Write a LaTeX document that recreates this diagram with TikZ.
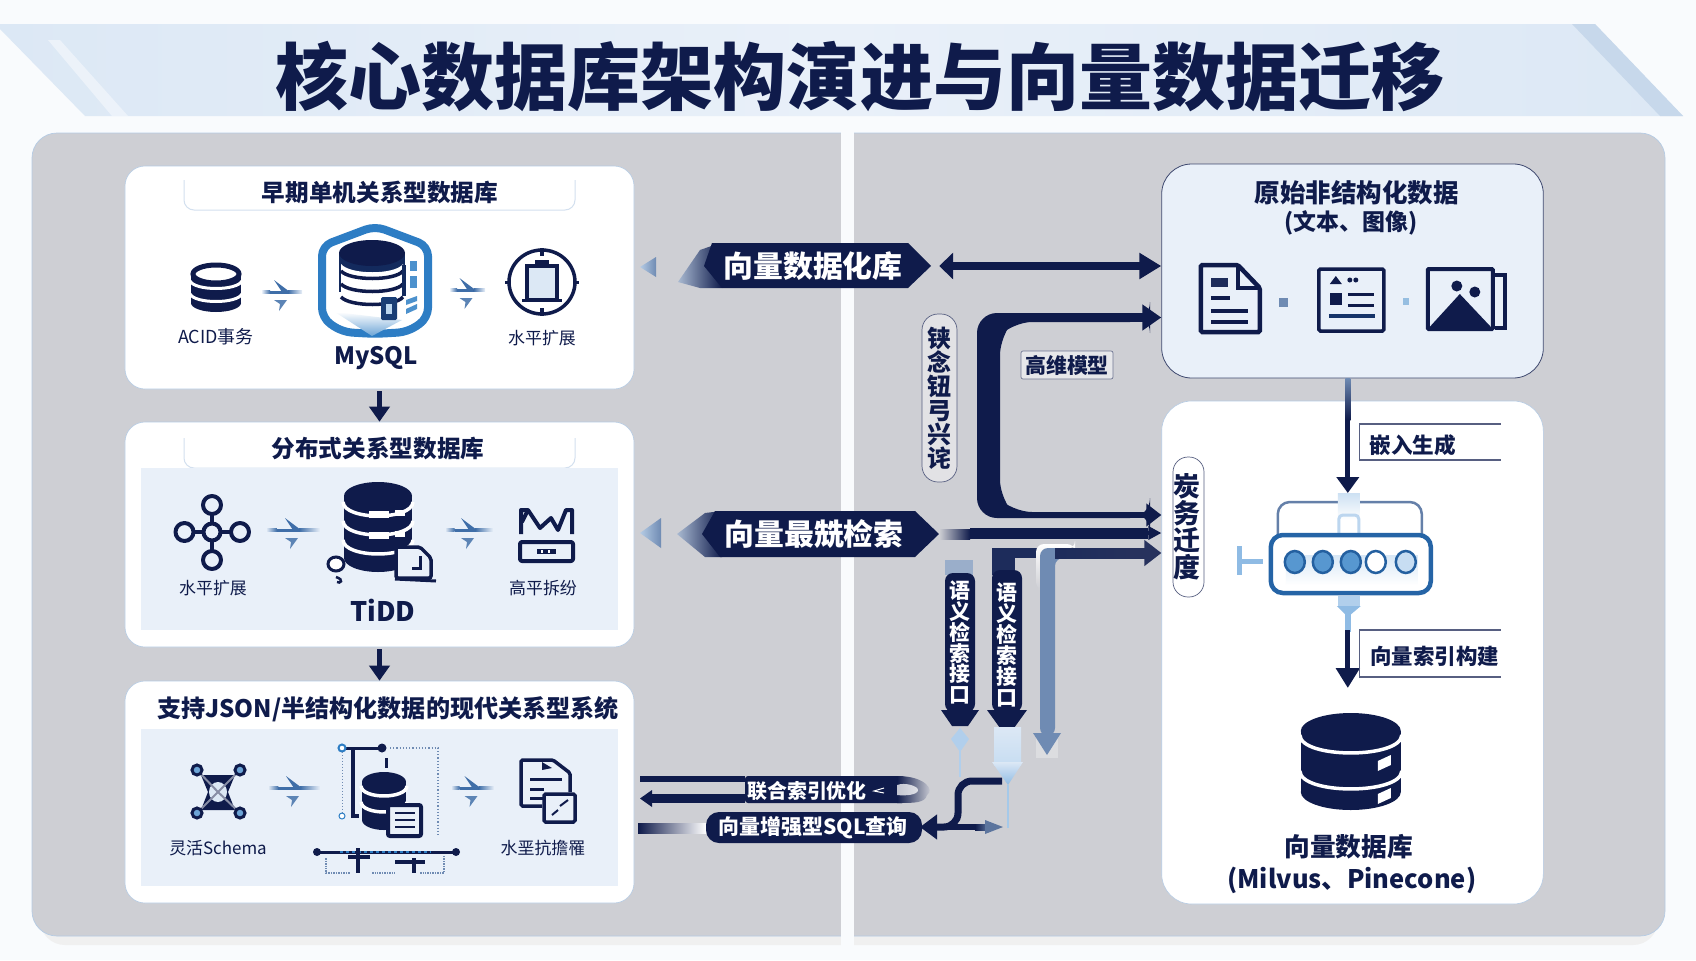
\documentclass[tikz,border=0pt]{standalone}
\usepackage{fontspec}
\setmainfont{Noto Sans CJK SC}
\usetikzlibrary{arrows.meta,calc}
\definecolor{navy}{HTML}{0F1B4B}
\definecolor{midblue}{HTML}{2D7DC4}
\definecolor{flowblue}{HTML}{3F6EA8}
\definecolor{paleblue}{HTML}{DCE8F5}
\definecolor{skyblue}{HTML}{8FBBE4}
\definecolor{steel}{HTML}{6F8BB3}
\definecolor{panelgrey}{HTML}{CECFD4}
\definecolor{pagebg}{HTML}{F9FBFD}
\definecolor{innerbg}{HTML}{E9F0F9}
\definecolor{edgeblue}{HTML}{B5CBE4}
\newcommand\fs[1]{\fontsize{#1}{#1}\selectfont}
\newcommand\dbicon[7]{%
  \fill[#6] ({#1-#3},#2) rectangle ({#1+#3},#5);
  \fill[#6] (#1,#2) ellipse [x radius=#3, y radius=#4];
  \fill[#6] (#1,#5) ellipse [x radius=#3, y radius=#4];
  \foreach \b in {#7} \draw[white,line width=3.5bp] ({#1-#3-1},\b) .. controls ({#1-#3},{\b+1.33*#4}) and ({#1+#3},{\b+1.33*#4}) .. ({#1+#3+1},\b);
}
% flow arrow pair: x1 x2 y
\newcommand\flowpair[3]{%
  \shade[left color=innerbg,right color=flowblue] (#1,{#3-1.5}) rectangle ({#1+0.2*(#2-#1)},{#3+1.5});
  \fill[flowblue] ({#1+0.2*(#2-#1)},{#3-1.5}) rectangle ({(#1+#2)/2+6},{#3+1.5});
  \shade[left color=flowblue,right color=innerbg] ({(#1+#2)/2+6},{#3-1.5}) rectangle (#2,{#3+1.5});
  \fill[flowblue] ({(#1+#2)/2-8},{#3-12}) -- ({(#1+#2)/2+8},#3) -- ({(#1+#2)/2-4},{#3+1}) -- ({(#1+#2)/2+0},#3) -- cycle;
  \fill[flowblue!85] ({(#1+#2)/2-8},{#3+8}) -- ({(#1+#2)/2+5},{#3+8}) -- ({(#1+#2)/2-3},{#3+19}) -- ({(#1+#2)/2-2},{#3+12}) -- cycle;
}
\tikzset{
  card/.style={fill=white,draw=edgeblue,line width=.6bp,rounded corners=20bp,inner sep=0},
  lbl/.style={inner sep=0,text=navy,font=\fs{17}},
  ttl/.style={inner sep=0,text=navy,font=\fs{23.7}\bfseries},
  bar/.style={navy,line width=#1},
  downarrow/.style={navy,line width=5bp,-{Triangle[length=15bp,width=20bp]}},
  ban/.style={inner sep=0,text=white,font=\fs{#1}\bfseries},
  vtext/.style={inner sep=0,align=center,font=\fs{21}\bfseries},
  icon/.style={navy,line width=4bp,line join=round},
  pillbox/.style={draw=navy!70,fill=panelgrey!60!white,line width=.7bp,rounded corners=16bp,inner sep=0},
}
\begin{document}
\begin{tikzpicture}[x=1bp,y=-1bp]
\useasboundingbox (0,0) rectangle (1696,960);
\fill[pagebg] (0,0) rectangle (1696,960);
% title band
\shade[left color=paleblue,right color=paleblue,middle color=innerbg]
  (0,24) -- (1595,24) -- (1683,116) -- (85,116) -- (0,29) -- cycle;
\fill[white,opacity=.45] (48,40) -- (60,40) -- (128,116) -- (112,116) -- cycle;
\fill[edgeblue!75!white] (1595,24) -- (1683,116) -- (1660,116) -- (1572,24) -- cycle;
\node (title) [inner sep=0,text=navy,font=\fs{73.3}\bfseries] at (860,77) {核心数据库架构演进与向量数据迁移};
% panels
\fill[black!6] (40,150) [rounded corners=25bp] rectangle (1658,945);
\draw[fill=panelgrey,draw=edgeblue,line width=.7bp,rounded corners=25bp] (32,133) rectangle (1665,936);
\fill[pagebg] (841,132) rectangle (854,946);
% ---------- left cards
\node (c1) [card,minimum width=509bp,minimum height=223bp] at (379.5,277.5) {};
\node (c2) [card,minimum width=509bp,minimum height=225bp] at (379.5,534.5) {};
\node (c3) [card,minimum width=509bp,minimum height=222bp] at (379.5,792) {};
\draw[downarrow] (c1.south) ++(0,2) -- (c2.north);
\draw[downarrow] (c2.south) ++(0,2) -- (c3.north);
% headers
\draw[edgeblue!60,line width=1bp,rounded corners=10bp,fill=white] (184,180) -- (184,210) -- (575,210) -- (575,180);
\draw[edgeblue!60,line width=1bp,rounded corners=10bp,fill=white] (184,438) -- (184,468) -- (575,468) -- (575,438);
\node (h1) [ttl] at (380,192) {早期单机关系型数据库};
\node (h2) [ttl] at (378,448) {分布式关系型数据库};
\node (h3) [ttl,font=\fs{24.2}\bfseries] at (388,709) {支持JSON/半结构化数据的现代关系型系统};
\fill[innerbg] (141,468) rectangle (618,630);
\fill[innerbg] (141,729) rectangle (618,886);
% ---------- card 1 icons
\fill[navy] (191,274) rectangle (241,302);
\fill[navy] (216,303) ellipse [x radius=25,y radius=9];
\foreach \b in {281,294} \draw[white,line width=3bp] (190,\b) .. controls (195,{\b+10}) and (237,{\b+10}) .. (242,\b);
\draw[navy,line width=5bp,fill=white] (216,274) ellipse [x radius=23,y radius=9];
\node (l11) [lbl,font=\fs{18}] at (216,337) {ACID事务};
\flowpair{262}{302}{292}
% MySQL shield
\draw[midblue,line width=8bp,fill=white,rounded corners=10bp,line join=round]
  (375,226) -- (428,246) -- (428,318) -- (408,332) -- (375,334) -- (342,332) -- (322,318) -- (322,246) -- cycle;
\shade[top color=white,bottom color=midblue!70] (335,312) -- (402,320) -- (372,336) -- cycle;
\fill[navy!85!midblue] (339,252) rectangle (405,292);
\fill[navy] (372,253) ellipse [x radius=33,y radius=13];
\fill[white] (341,264) .. controls (350,275) and (395,275) .. (403,264) -- (403,296) .. controls (395,308) and (350,308) .. (341,296) -- cycle;
\foreach \b in {271,284,297} \draw[navy,line width=3.5bp] (341,\b) .. controls (350,{\b+10}) and (395,{\b+10}) .. (403,\b);
\fill[navy!85!midblue] (402,265) rectangle (406,296);
\fill[midblue!85] (410,261) rectangle (417,271);
\fill[midblue!85] (410,276) rectangle (417,288);
\fill[midblue!85] (406,300) -- (417,296) -- (417,301) -- (406,305) -- cycle;
\fill[midblue!85] (406,309) -- (417,304) -- (417,309) -- (406,314) -- cycle;
\fill[navy!65!midblue,rounded corners=1.5bp] (381,297) rectangle (397,320);
\fill[skyblue!60!white] (386,304) rectangle (392,314);
\node (l12) [inner sep=0,text=navy,font=\fs{24}\bfseries] at (376,358) {MySQL};
\flowpair{450}{485}{290}
\draw[navy,line width=3.5bp] (542,282) ellipse [x radius=33,y radius=32];
\fill[navy] (540,248) rectangle (544,256);
\fill[navy] (540,308) rectangle (544,316);
\fill[navy] (505,281) rectangle (510,284);
\fill[navy] (574,281) rectangle (579,284);
\draw[navy,line width=3.5bp,fill=paleblue] (527,266) rectangle (557,300);
\fill[navy] (535,260) rectangle (549,266);
\draw[navy,line width=3bp] (522,300) -- (562,300);
\node (l13) [lbl] at (542,338) {水平扩展};
% ---------- card 2 icons
\draw[icon] (212,514) -- (212,550) (194,532) -- (230,532);
\foreach \p in {(212,505),(212,560),(184.5,532),(240,532)}
  \draw[icon,fill=innerbg] \p circle (9);
\draw[icon,fill=innerbg] (212,532) circle (8.5);
\node (l21) [lbl] at (213,588) {水平扩展};
\flowpair{266}{320}{530}
\dbicon{378}{496}{34}{14}{558}{navy}{502,521,540}
\fill[white] (369,511) rectangle (389,518);
\fill[white] (395,510) rectangle (405,516);
\fill[white] (369,532) rectangle (389,539);
\fill[white] (395,531) rectangle (405,537);
\draw[navy,line width=3.5bp,fill=innerbg,rounded corners=2bp] (396,547) -- (420,547) -- (431,558) -- (431,578) -- (396,578) -- cycle;
\draw[navy,line width=3bp] (420,556) -- (420,568) -- (412,568);
\draw[navy,line width=3bp] (395,579) -- (436,581);
\draw[navy,line width=3bp,fill=white] (336,564) ellipse [x radius=8,y radius=7];
\draw[navy,line width=2.5bp] (336,577) .. controls (345,580) and (340,584) .. (337,582);
\node (l22) [inner sep=0,text=navy,font=\fs{27}\bfseries] at (383,610) {TiDD};
\flowpair{445}{493}{530}
\draw[icon] (521,534) -- (521,510) -- (528,510) -- (540,528) -- (551,518) -- (558,530) -- (566,510) -- (572,510) -- (572,534);
\draw[icon] (528,510) -- (522,522);
\draw[icon,rounded corners=2bp] (520,542) rectangle (573,561);
\fill[navy] (537,549) rectangle (556,554);
\fill[white] (541,550) rectangle (543,553);
\fill[white] (548,550) rectangle (550,553);
\node (l23) [lbl] at (543,588) {高平拆纷};
% ---------- card 3 icons
\fill[navy] (201,775) -- (235,775) -- (228,792) -- (235,810) -- (201,810) -- (208,792) -- cycle;
\fill[paleblue] (218,792) ellipse [x radius=9,y radius=10];
\draw[navy!50,line width=2bp] (197,770) -- (218,792) -- (240,770) (197,813) -- (218,792) -- (240,813);
\foreach \p in {(197,770),(240,770),(197,813),(240,813)}
  \draw[navy,line width=3bp,fill=midblue!70] \p ellipse [x radius=5,y radius=5];
\node (l31) [lbl] at (218,848) {灵活Schema};
\flowpair{268}{320}{788}
\draw[navy,line width=3bp] (342,748) -- (382,748);
\draw[midblue,line width=2bp,fill=white] (342,748) circle (3.5);
\fill[navy] (382,748) circle (4.5);
\draw[navy,line width=3.5bp] (353,750) -- (353,816) -- (359,816);
\draw[steel,line width=1bp,dotted] (342,752) -- (342,813);
\draw[midblue,line width=1bp,fill=white] (342,816) circle (3);
\draw[steel,line width=1.2bp,dotted] (390,748) -- (438,748) -- (438,835);
\draw[navy,line width=3bp] (386,758) -- (386,768);
\dbicon{384}{782}{22}{10}{820}{navy}{786,802}
\draw[navy,line width=4bp,fill=innerbg,rounded corners=2bp] (388,805) rectangle (421,836);
\foreach \y in {813,820,827} \draw[navy,line width=2bp] (395,\y) -- (415,\y);
\draw[navy,line width=3bp] (318,852) -- (455,852);
\draw[midblue,line width=2bp,dashed] (340,852) -- (430,852);
\fill[navy] (317,852) circle (4);
\fill[navy] (456,852) circle (4);
\draw[navy,line width=3.5bp] (358,848) -- (358,873) (348,857) -- (370,857);
\draw[navy,line width=3.5bp] (414,858) -- (414,873) (395,862) -- (425,862);
\draw[steel,line width=1.5bp,densely dotted] (326,858) -- (326,873) -- (350,873) (372,873) -- (395,873) (420,873) -- (444,873) -- (444,856);
\flowpair{451}{494}{788}
\draw[navy,line width=3.5bp,rounded corners=1.5bp] (542,806) -- (521,806) -- (521,760) -- (553,760) -- (570,773) -- (570,792);
\draw[navy,line width=3bp] (530,779) -- (562,779) (530,789) -- (544,789) (530,798) -- (544,798);
\fill[navy] (542,762) -- (552,768) -- (542,770) -- cycle;
\draw[navy,line width=3.5bp,fill=innerbg,rounded corners=1.5bp] (544,794) rectangle (575,822);
\draw[navy,line width=2bp] (552,815) -- (558,810) (560,806) -- (568,800);
\node (l33) [lbl] at (543,848) {水垩抗擔罹};
% ---------- right cards
\node (t1) [draw=navy!80,line width=.8bp,fill=innerbg,rounded corners=30bp,inner sep=0,minimum width=381.6bp,minimum height=214bp] at (1352.5,271) {};
\node (t2) [fill=white,draw=edgeblue,line width=.6bp,rounded corners=30bp,inner sep=0,minimum width=381.6bp,minimum height=503bp] at (1352.5,652.5) {};
\begin{scope}[xshift=-2.2bp]
\node (t1a) [inner sep=0,text=navy,font=\fs{25.6}\bfseries] at (1359,193) {原始非结构化数据};
\node (t1b) [inner sep=0,text=navy,font=\fs{23}\bfseries] at (1353,223) {(文本、图像)};
% doc icons
\draw[navy,line width=4.5bp,fill=innerbg,rounded corners=1.5bp] (1203,265) -- (1240,265) -- (1262,288) -- (1262,332) -- (1203,332) -- cycle;
\draw[navy,line width=3.5bp] (1240,266) -- (1240,288) -- (1261,288);
\fill[navy!85!steel] (1213,278) rectangle (1230,287);
\foreach \y in {298,311,322} \draw[navy,line width=3.5bp] (1213,\y) -- ({\y==298?1232:1250},\y);
\fill[steel] (1281,298) rectangle (1290,307);
\draw[navy,line width=3.5bp,fill=innerbg,rounded corners=1.5bp] (1321,269) rectangle (1386,331);
\fill[navy] (1332,284) -- (1338,276) -- (1344,284) -- cycle;
\fill[navy] (1352,280) circle (2.5);
\fill[navy] (1358,280) circle (2.5);
\fill[navy] (1332,293) rectangle (1344,305);
\foreach \y in {294,305} \draw[navy,line width=3bp] (1350,\y) -- (1376,\y);
\draw[navy!75!midblue,line width=3.5bp] (1331,316) -- (1377,316);
\fill[midblue!50] (1405,298) rectangle (1411,305);
\draw[navy,line width=4bp] (1495,275) -- (1507,275) -- (1507,328) -- (1497,328);
\draw[navy,line width=4bp,fill=innerbg,rounded corners=1bp] (1430,269) rectangle (1495,329);
\fill[navy] (1430,329) -- (1462,294) -- (1495,329) -- cycle;
\fill[navy] (1459,286) circle (5.5);
\fill[navy] (1477,292) circle (5.5);
\node (t2a) [inner sep=0,text=navy,font=\fs{25.8}\bfseries] at (1351,847) {向量数据库};
\node (t2b) [inner sep=0,text=navy,font=\fs{25.6}\bfseries] at (1354,880) {(Milvus、Pinecone)};
\dbicon{1353}{731}{50}{18}{792}{navy}{735,771}
\fill[white] (1380,761) -- (1393,755) -- (1393,765) -- (1380,771) -- cycle;
\fill[white] (1380,794) -- (1393,788) -- (1393,798) -- (1380,804) -- cycle;
% model icon
\coordinate (mtop) at (1350,535);
\coordinate (mbot) at (1350,613);
\draw[steel!90!navy,line width=2.5bp,rounded corners=12bp] (1280,535) -- (1280,502) -- (1424,502) -- (1424,535);
\shade[top color=skyblue!45,bottom color=white] (1340,493) rectangle (1362,520);
\draw[skyblue!60,line width=3bp,rounded corners=4bp] (1341,535) -- (1341,515) -- (1361,515) -- (1361,535);
\draw[midblue!75!navy,line width=4.5bp,fill=white,rounded corners=12bp] (1273,535) rectangle (1433,593);
\shade[top color=skyblue!35,bottom color=white] (1288,555) rectangle (1420,585);
\fill[skyblue!70] (1340,596) rectangle (1362,606);
\fill[skyblue] (1339,606) -- (1363,606) -- (1350,617) -- cycle;
\foreach \x/\c in {1297/midblue!80,1325/midblue!80,1353/midblue!80,1378/white,1408/skyblue!50}
  \draw[midblue!70!navy,line width=2.5bp,fill=\c] (\x,562) ellipse [x radius=10,y radius=11];
\fill[skyblue] (1239,546) rectangle (1244,575);
\fill[skyblue] (1244,559) rectangle (1265,564);
\end{scope}
% ---------- banners
\shade[left color=steel!60,right color=navy] (678,282) -- (700,250) -- (720,243) -- (722,288) -- (700,288) -- cycle;
\fill[navy] (712,243) -- (908,243) -- (931,266) -- (908,288) -- (722,288) -- (704,266) -- cycle;
\node (b1) [ban=30,minimum width=229bp,minimum height=45bp] at (816.5,266) {};
\node [ban=30] at (813,266) {向量数据化库};
\shade[left color=edgeblue,right color=steel] (640,267) -- (656,257) -- (656,277) -- cycle;
\shade[left color=steel!60,right color=navy] (677,534) -- (705,513) -- (722,511) -- (722,557) -- (705,557) -- cycle;
\fill[navy] (715,511) -- (915,511) -- (939,534) -- (915,557) -- (720,557) -- (702,534) -- cycle;
\node (b2) [ban=30,minimum width=237bp,minimum height=46bp] at (820.5,534) {};
\node [ban=30] at (814,534) {向量最兟检索};
\shade[left color=edgeblue,right color=steel] (640,533) -- (661,518) -- (661,548) -- cycle;
% connectors right
\draw[bar=8bp,shorten <=8bp,{Triangle[length=14bp,width=26bp]}-{Triangle[length=22bp,width=25bp]}] (b1.east) -- (b1.east -| t1.west);
\fill[navy,rounded corners=20bp] (1150,313) -- (977,313) -- (977,518) -- (1150,518) -- (1150,512) -- (1012,512) -- (1000,500) -- (1000,335) -- (1012,322) -- (1150,322) -- cycle;
\coordinate (e1) at (1130,317.5);
\coordinate (e2) at (1130,515);
\draw[bar=9bp,-{Triangle[length=19bp,width=25bp]}] (e1) -- (e1 -| t1.west);
\draw[bar=6bp,-{Triangle[length=15bp,width=22bp]}] (e2) -- (e2 -| t2.west);
\shade[left color=panelgrey,right color=navy] (b2.east) ++(0,-5) rectangle (970,539);
\fill[navy] (970,528) rectangle (1148,539);
\coordinate (e3) at (1130,533);
\draw[bar=4bp,-{Triangle[length=13bp,width=13bp]}] (e3) -- (e3 -| t2.west);
% third line
\fill[navy!85!steel] (992,548) rectangle (1040,558);
\fill[navy!85!steel] (992,548) rectangle (1015,575);
\shade[top color=white,bottom color=panelgrey,rounded corners=8bp] (1036,590) -- (1036,544) -- (1075,544) -- (1075,549) -- (1042,549) -- (1042,590) -- cycle;
\fill[steel,rounded corners=8bp] (1040,736) -- (1040,548) -- (1150,548) -- (1150,558) -- (1055,558) -- (1055,736) -- cycle;
\shade[left color=navy!85!steel,right color=navy!90] (1055,548) rectangle (1150,558);
\coordinate (e4) at (1130,553);
\draw[bar=10bp,navy!90,-{Triangle[length=17bp,width=25bp]}] (e4) -- (e4 -| t2.west);
\fill[white,opacity=.3] (1036,738) rectangle (1058,758);
\fill[steel] (1033,733) -- (1061,733) -- (1047,755) -- cycle;
% vertical pills
\fill[steel!70] (945,560) rectangle (973,575);
\fill[navy,rounded corners=8bp] (945,573) rectangle (975,712);
\fill[navy] (941,710) -- (979,710) -- (968,726) -- (952,726) -- cycle;
\node (v1) [vtext,text=white] at (960,642.5) {语\\义\\检\\索\\接\\口};
\fill[navy,rounded corners=8bp] (992,570) rectangle (1022,712);
\fill[navy] (987,710) -- (1027,710) -- (1014,728) -- (1000,728) -- cycle;
\node (v2) [vtext,text=white] at (1007,645) {语\\义\\检\\索\\接\\口};
% light arrows below
\fill[skyblue!70] (960,728) -- (969,739) -- (960,752) -- (951,739) -- cycle;
\fill[skyblue!70] (959.3,750) rectangle (960.7,777);
\shade[top color=paleblue,bottom color=skyblue!50] (994,727) rectangle (1021,765);
\shade[top color=paleblue,bottom color=skyblue] (992,762) -- (1023,762) -- (1008,785) -- cycle;
\fill[skyblue!80] (1007.4,785) rectangle (1008.6,828);
% top / bottom pills on elbow
\node (p1) [pillbox,minimum width=35bp,minimum height=168bp] at (939.5,398) {};
\node (p1t) [vtext,text=navy,font=\fs{24}\bfseries] at (939,398) {铗\\念\\钮\\弓\\兴\\诧};
\node (p2) [pillbox,draw=navy!70,fill=white,minimum width=31bp,minimum height=140bp,rounded corners=15bp] at (1188.5,527) {};
\node (p2t) [vtext,text=navy,font=\fs{27}\bfseries] at (1187,527) {炭\\务\\迁\\度};
\node (g1) [draw=navy!60,fill=panelgrey!50!white,line width=.7bp,rounded corners=2bp,inner sep=0,text=navy,font=\fs{21}\bfseries,minimum width=92bp,minimum height=28bp] at (1067,365) {高维模型};
% vertical embed arrows
\begin{scope}[xshift=-2.2bp]
\shade[top color=steel,bottom color=navy] (1347.5,378) rectangle (1352.5,420);
\coordinate (d1) at (1350,420);
\coordinate (d2) at (1350,493);
\draw[bar=5bp,-{Triangle[length=16bp,width=22bp]}] (d1) -- (d2);
\node (n1) [inner sep=0,text=navy,font=\fs{21.7}\bfseries] at (1415,445) {嵌入生成};
\draw[navy!70,line width=1.2bp] (1503,424) -- (1362,424) -- (1362,460) -- (1503,460);
\fill[skyblue] (1347,613) rectangle (1353,632);
\coordinate (d3) at (1350,630);
\coordinate (d4) at (1350,688);
\draw[bar=5bp,-{Triangle[length=20bp,width=23bp]}] (d3) -- (d4);
\node (n2) [inner sep=0,text=navy,font=\fs{21.5}\bfseries] at (1437,656) {向量索引构建};
\draw[navy!70,line width=1.2bp] (1503,630) -- (1362,630) -- (1362,677) -- (1503,677);
\end{scope}
% lower banners
\fill[navy] (640,776) rectangle (745,782);
\fill[navy] (646,794) rectangle (745,803);
\fill[navy] (640,798.5) -- (652,790) -- (652,807) -- cycle;
\fill[navy,rounded corners=3bp] (745,776) rectangle (905,803);
\shade[left color=navy,right color=panelgrey!60!white] (897,776) .. controls (925,776) and (935,790) .. (927,795) .. controls (925,803) and (915,803) .. (897,803) -- cycle;
\fill[white,opacity=.75] (897,785) .. controls (905,782) and (918,786) .. (918,790) .. controls (918,795) and (905,796) .. (897,795) -- cycle;
\node (b3) [ban=20,font=\fs{20}\bfseries] at (807,791) {联合索引优化};
\draw[white,line width=1bp] (884,788) -- (874,791) -- (884,793);
\shade[left color=navy,right color=white] (638,823) rectangle (706,833);
\fill[navy,rounded corners=13bp] (706,812) rectangle (922,843);
\node (b4) [ban=21] at (813,828) {向量增强型SQL查询};
\coordinate (be) at (920,827);
\coordinate (bf) at (1003,827);
\draw[navy,line width=7bp,rounded corners=14bp] (1002,781) -- (958,781) -- (958,827) -- (937,827);
\draw[bar=6bp,{Triangle[length=17bp,width=24bp]}-] (be) -- (975,827);
\shade[left color=navy,right color=steel] (975,824) rectangle (992,830);
\fill[steel!80!navy] (985,820) -- (1003,827) -- (985,834) -- cycle;
\end{tikzpicture}
\end{document}
